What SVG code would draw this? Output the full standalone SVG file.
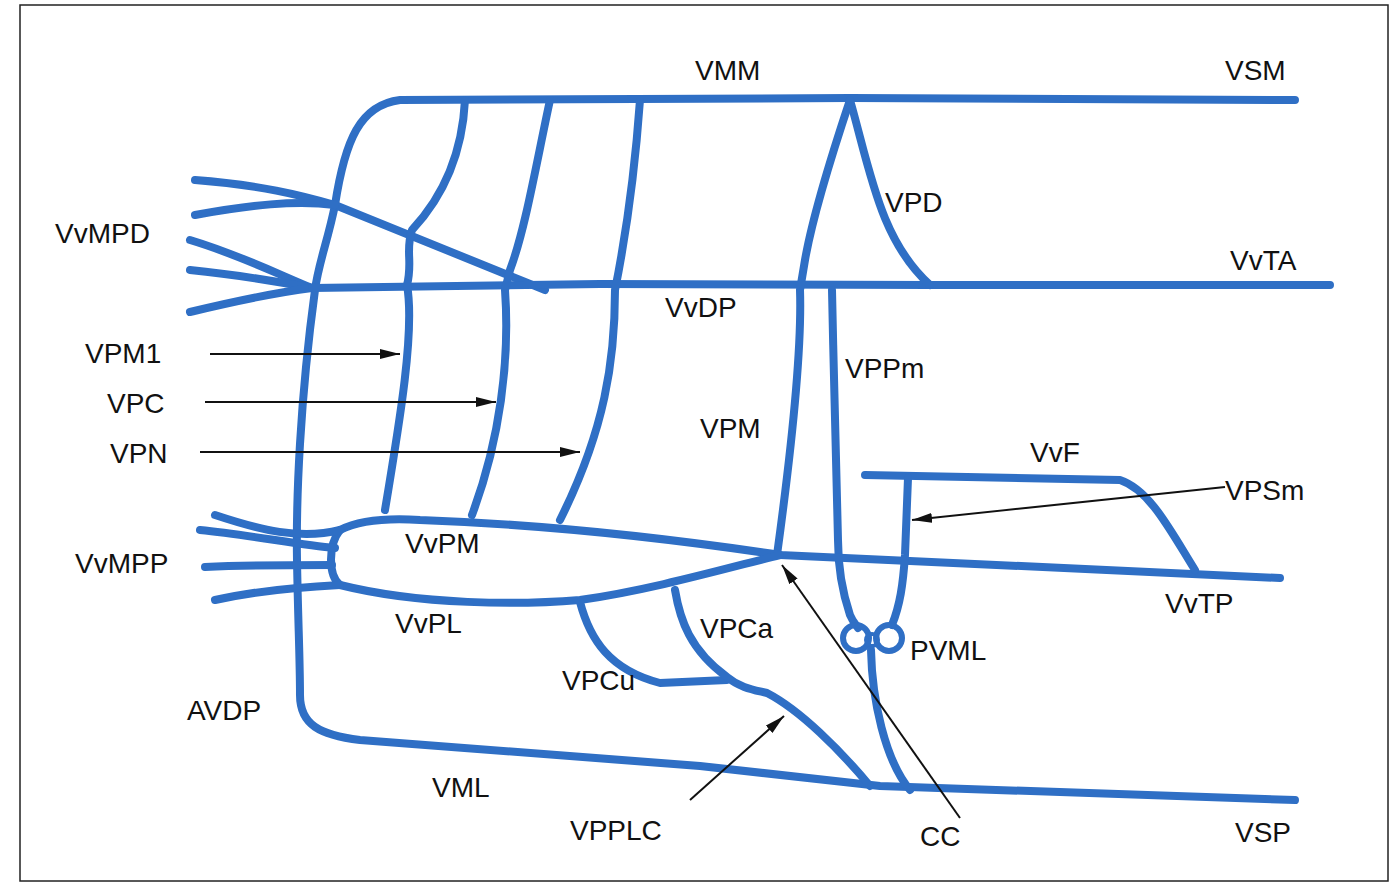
<svg xmlns="http://www.w3.org/2000/svg" width="1400" height="889" viewBox="0 0 1400 889">
<style>
.v{fill:none;stroke:#2f6fc5;stroke-width:8;stroke-linecap:round;stroke-linejoin:round}
.a{fill:none;stroke:#111;stroke-width:2;marker-end:url(#ah)}
text{font-family:"Liberation Sans",Arial,sans-serif;font-size:28px;fill:#111}
</style>
<defs><marker id="ah" viewBox="0 0 20 10" refX="20" refY="5" markerWidth="20" markerHeight="10" markerUnits="userSpaceOnUse" orient="auto"><path d="M0,0L20,5L0,10z" fill="#111"/></marker></defs>
<rect x="20" y="5" width="1368" height="876" fill="#fff" stroke="#222" stroke-width="1.5"/>
<g id="vessels">
<path class="v" d="M1295,100 L850,98 L400,100 C360,105 345,140 335,205 C328,240 318,265 315,290 C300,400 296,500 297,560 C298,620 300,660 300,695 C300,725 320,735 360,740 L700,766 L880,786 L1295,800"/>
<path class="v" d="M195,180 C260,185 300,195 335,205 L545,290"/>
<path class="v" d="M195,215 C250,205 295,200 335,205"/>
<path class="v" d="M190,240 C240,255 280,275 312,288"/>
<path class="v" d="M190,270 C240,275 280,282 312,288"/>
<path class="v" d="M190,312 C240,300 280,292 312,288"/>
<path class="v" d="M312,288 L600,284 L930,285 L1330,285"/>
<path class="v" d="M465,100 C462,160 440,200 412,230 C405,250 413,262 407,285 C415,330 400,420 385,510"/>
<path class="v" d="M550,100 C535,170 525,230 510,270 L505,290 C510,360 500,440 472,515"/>
<path class="v" d="M640,100 C635,170 625,240 615,290 C615,360 605,430 560,520"/>
<path class="v" d="M850,100 C830,160 812,220 805,260 L800,290 C802,350 790,460 777,555"/>
<path class="v" d="M850,100 C870,170 880,240 930,285"/>
<path class="v" d="M832,290 C834,380 836,480 838,540 C838,575 845,600 850,615 C853,622 856,625 858,628"/>
<path class="v" d="M340,530 C360,520 390,518 420,520 C560,525 680,540 780,555 L1280,578"/>
<path class="v" d="M340,530 C328,545 328,575 340,585 C420,605 520,605 580,600 C650,590 720,570 780,555"/>
<path class="v" d="M215,515 C260,530 300,540 340,530"/>
<path class="v" d="M200,530 C250,535 300,545 335,548"/>
<path class="v" d="M205,567 C250,565 300,565 332,565"/>
<path class="v" d="M215,600 C260,590 300,587 340,585"/>
<path class="v" d="M580,602 C590,640 610,670 660,683 L727,680"/>
<path class="v" d="M675,590 C680,620 690,650 727,677 C740,688 755,690 767,693 C800,710 840,750 870,786"/>
<path class="v" d="M865,475 L1120,480 C1150,490 1170,530 1195,570"/>
<path class="v" d="M908,478 L905,555 C903,585 900,605 892,625"/>
<circle class="v" cx="856" cy="638" r="13" style="stroke-width:6"/>
<circle class="v" cx="889" cy="638" r="13" style="stroke-width:6"/>
<circle class="v" cx="872" cy="640" r="6" style="stroke-width:4"/>
<path class="v" d="M871,650 C872,700 885,760 910,790"/>
</g>
<g id="arrows">
<path class="a" d="M210,354 L400,354"/>
<path class="a" d="M205,402 L496,402"/>
<path class="a" d="M200,452 L580,452"/>
<path class="a" d="M1225,487 L912,520"/>
<path class="a" d="M960,818 L782,565"/>
<path class="a" d="M690,800 L784,716"/>
</g>
<g id="labels">
<text x="695" y="80">VMM</text>
<text x="1225" y="80">VSM</text>
<text x="55" y="243">VvMPD</text>
<text x="885" y="212">VPD</text>
<text x="1230" y="270">VvTA</text>
<text x="665" y="317">VvDP</text>
<text x="85" y="363">VPM1</text>
<text x="107" y="413">VPC</text>
<text x="110" y="463">VPN</text>
<text x="700" y="438">VPM</text>
<text x="845" y="378">VPPm</text>
<text x="1030" y="462">VvF</text>
<text x="1225" y="500">VPSm</text>
<text x="405" y="553">VvPM</text>
<text x="75" y="573">VvMPP</text>
<text x="395" y="633">VvPL</text>
<text x="562" y="690">VPCu</text>
<text x="700" y="638">VPCa</text>
<text x="910" y="660">PVML</text>
<text x="1165" y="613">VvTP</text>
<text x="187" y="720">AVDP</text>
<text x="432" y="797">VML</text>
<text x="570" y="840">VPPLC</text>
<text x="920" y="846">CC</text>
<text x="1235" y="842">VSP</text>
</g>
</svg>
